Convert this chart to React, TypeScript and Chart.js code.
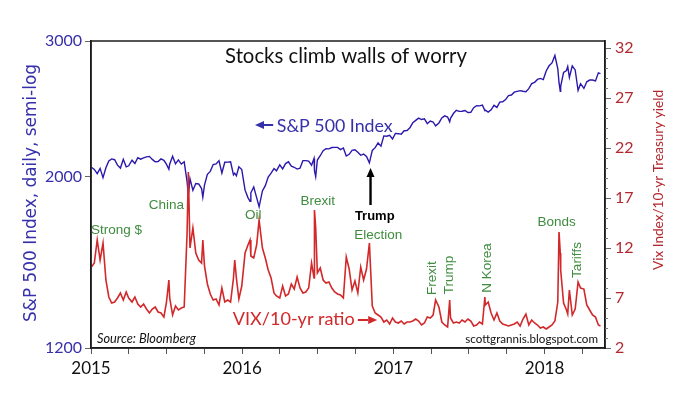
import React, { useEffect, useRef } from 'react';
import { Chart, registerables } from 'chart.js';

Chart.register(...registerables);

// ---------------- data ----------------
const dates = [
  "2015-01-02","2015-01-09","2015-01-16","2015-01-23","2015-01-30",
  "2015-02-06","2015-02-13","2015-02-20","2015-02-27",
  "2015-03-06","2015-03-13","2015-03-20","2015-03-27",
  "2015-04-02","2015-04-10","2015-04-17","2015-04-24",
  "2015-05-01","2015-05-08","2015-05-15","2015-05-22","2015-05-29",
  "2015-06-05","2015-06-12","2015-06-19","2015-06-26",
  "2015-07-02","2015-07-08","2015-07-10","2015-07-17","2015-07-24","2015-07-31",
  "2015-08-07","2015-08-14","2015-08-21","2015-08-24","2015-08-28",
  "2015-09-04","2015-09-11","2015-09-18","2015-09-25","2015-09-28",
  "2015-10-02","2015-10-09","2015-10-16","2015-10-23","2015-10-30",
  "2015-11-06","2015-11-13","2015-11-20","2015-11-27",
  "2015-12-04","2015-12-11","2015-12-14","2015-12-18","2015-12-24","2015-12-31",
  "2016-01-08","2016-01-15","2016-01-20","2016-01-22","2016-01-29",
  "2016-02-05","2016-02-11","2016-02-19","2016-02-26",
  "2016-03-04","2016-03-11","2016-03-18","2016-03-24",
  "2016-04-01","2016-04-08","2016-04-15","2016-04-22","2016-04-29",
  "2016-05-06","2016-05-13","2016-05-20","2016-05-27",
  "2016-06-03","2016-06-10","2016-06-17","2016-06-23","2016-06-24","2016-06-27",
  "2016-07-01","2016-07-08","2016-07-15","2016-07-22","2016-07-29",
  "2016-08-05","2016-08-12","2016-08-19","2016-08-26",
  "2016-09-02","2016-09-09","2016-09-16","2016-09-23","2016-09-30",
  "2016-10-07","2016-10-14","2016-10-21","2016-10-28",
  "2016-11-04","2016-11-11","2016-11-18","2016-11-25",
  "2016-12-02","2016-12-09","2016-12-16","2016-12-23","2016-12-30",
  "2017-01-06","2017-01-13","2017-01-20","2017-01-27",
  "2017-02-03","2017-02-10","2017-02-17","2017-02-24",
  "2017-03-03","2017-03-10","2017-03-17","2017-03-24","2017-03-31",
  "2017-04-07","2017-04-13","2017-04-21","2017-04-28",
  "2017-05-05","2017-05-12","2017-05-17","2017-05-19","2017-05-26",
  "2017-06-02","2017-06-09","2017-06-16","2017-06-23","2017-06-30",
  "2017-07-07","2017-07-14","2017-07-21","2017-07-28",
  "2017-08-04","2017-08-10","2017-08-11","2017-08-18","2017-08-25",
  "2017-09-01","2017-09-08","2017-09-15","2017-09-22","2017-09-29",
  "2017-10-06","2017-10-13","2017-10-20","2017-10-27",
  "2017-11-03","2017-11-10","2017-11-17","2017-11-24",
  "2017-12-01","2017-12-08","2017-12-15","2017-12-22","2017-12-29",
  "2018-01-05","2018-01-12","2018-01-19","2018-01-26",
  "2018-02-02","2018-02-05","2018-02-08","2018-02-09","2018-02-16","2018-02-23","2018-02-26",
  "2018-03-02","2018-03-09","2018-03-16","2018-03-23","2018-03-29",
  "2018-04-06","2018-04-13","2018-04-20","2018-04-27",
  "2018-05-04","2018-05-11","2018-05-16",
];

const spx = [
  2058,2045,2019,2051,1995, 2055,2097,2110,2105, 2071,2053,2108,2061, 2067,2102,2081,2117,
  2108,2116,2123,2126,2107, 2092,2094,2110,2101, 2077,2046,2077,2127,2079,2104,
  2078,2092,1971,1893,1989, 1921,1961,1958,1931,1882, 1951,2015,2033,2075,2079,
  2099,2023,2089,2090, 2092,2012,2022,2006,2061,2044,
  1922,1880,1859,1907,1940, 1880,1829,1918,1948, 1999,2022,2050,2036,
  2073,2048,2081,2092,2065, 2058,2047,2052,2099, 2099,2096,2071,2113,2037,2001,
  2103,2130,2162,2175,2174, 2183,2184,2184,2169, 2180,2128,2139,2165,2168,
  2153,2133,2141,2126, 2085,2164,2182,2213, 2192,2260,2258,2264,2239,
  2277,2275,2271,2295, 2297,2316,2351,2367, 2383,2373,2378,2344,2363,
  2356,2329,2349,2384, 2399,2391,2357,2382,2416, 2439,2432,2433,2438,2423,
  2425,2459,2473,2472, 2477,2438,2441,2426,2443, 2476,2461,2500,2502,2519,
  2549,2553,2575,2581, 2587,2582,2579,2602, 2642,2652,2675,2683,2674,
  2743,2786,2810,2873, 2762,2649,2581,2620,2732,2747,2780,
  2691,2786,2752,2588,2641, 2604,2656,2670,2670, 2663,2728,2722,
];

const vixRatio = [
  10.1,10.5,12.8,10.8,12.5, 8.8,7.1,6.5,6.6, 7.0,7.5,6.8,7.6, 7.0,6.6,7.1,6.4,
  6.1,6.4,5.9,5.5,5.9, 6.1,5.6,5.5,5.1, 6.5,8.8,7.0,5.3,6.2,5.8,
  6.0,6.1,13.5,19.6,12.0, 14.0,11.5,10.8,10.5,12.8, 10.2,8.4,7.4,6.8,6.9,
  6.3,8.0,6.6,6.8, 6.6,9.0,10.8,9.0,6.9,8.2,
  11.5,12.3,12.8,11.2,11.0, 12.3,14.8,12.0,11.0, 9.8,9.0,7.5,7.2,
  7.0,8.2,7.2,7.4,8.4, 7.9,9.1,8.0,7.5, 7.6,8.0,10.5,9.0,15.8,14.0,
  9.5,10.0,8.8,8.5,8.6, 8.0,7.6,7.4,7.3, 7.0,11.1,9.9,7.8,8.7,
  7.5,10.1,8.8,9.9, 12.5,6.2,5.5,5.3, 5.1,4.6,4.8,4.4,5.0,
  4.6,4.5,4.7,4.4, 4.6,4.6,4.7,4.9, 4.7,4.3,4.5,5.1,5.0,
  5.3,6.8,6.1,4.6, 4.3,4.1,6.8,5.0,4.5, 4.6,4.5,4.8,4.6,4.9,
  4.7,4.2,4.3,4.6, 4.4,7.1,6.3,6.6,5.5, 4.8,5.5,4.7,4.4,4.3,
  4.2,4.3,4.4,4.6, 4.2,4.9,5.4,4.3, 4.8,4.5,4.3,4.0,4.1,
  3.9,4.1,4.3,4.7, 6.6,13.6,11.5,9.8,6.5,5.8,5.4,
  7.8,5.3,5.9,8.6,8.0, 7.9,6.3,5.8,5.3, 5.1,4.3,4.2,
];

const leftTicks = [1200, 2000, 3000];
const rightTicks = [2, 7, 12, 17, 22, 27, 32];
const yearLabels = [2015, 2016, 2017, 2018];
const quarterTicks = [
  2015, 2015.25, 2015.5, 2015.75, 2016, 2016.25, 2016.5, 2016.75,
  2017, 2017.25, 2017.5, 2017.75, 2018, 2018.25,
];

const TITLE = 'Stocks climb walls of worry';
const LEFT_TITLE = 'S&P 500 Index, daily, semi-log';
const RIGHT_TITLE = 'Vix Index/10-yr Treasury yield';

// event labels (x in years, y in right-axis units)
const events = [
  { t: 'Strong $', x: 2015.169, y: 13.8, rot: false },
  { t: 'China', x: 2015.498, y: 16.3, rot: false },
  { t: 'Oil', x: 2016.074, y: 15.3, rot: false },
  { t: 'Brexit', x: 2016.5, y: 16.63, rot: false },
  { t: 'Election', x: 2016.9, y: 13.3, rot: false },
  { t: 'Bonds', x: 2018.08, y: 14.53, rot: false },
  { t: 'Frexit', x: 2017.26, y: 9.0, rot: true },
  { t: 'Trump', x: 2017.373, y: 9.3, rot: true },
  { t: 'N Korea', x: 2017.624, y: 10.0, rot: true },
  { t: 'Tariffs', x: 2018.219, y: 10.8, rot: true },
];

// ---------------- styles ----------------
const BLUE = '#2a18ad';
const RED = '#d2282a';
const GREEN = '#3f8c3f';
const AXIS_BLUE = '#3630aa';
const AXIS_RED = '#b3282e';
const GEO = 'Lato, "Liberation Sans", sans-serif';
const WIDE = '"DejaVu Sans", sans-serif';
const ARIAL = '"Liberation Sans", Arial, sans-serif';

const toYear = (s: string) => {
  const [y, m, d] = s.split('-').map(Number);
  const st = Date.UTC(y, 0, 1);
  const en = Date.UTC(y + 1, 0, 1);
  return y + (Date.UTC(y, m - 1, d) - st) / (en - st);
};

const fit = (ctx: CanvasRenderingContext2D, spec: string, family: string, text: string, w: number) => {
  ctx.font = `${spec} 100px ${family}`;
  const m = ctx.measureText(text).width;
  ctx.font = `${spec} ${((100 * w) / m).toFixed(2)}px ${family}`;
};

const arrow = (ctx: CanvasRenderingContext2D, x1: number, y1: number, x2: number, y2: number, color: string, lw: number, hl: number, hw: number) => {
  const ang = Math.atan2(y2 - y1, x2 - x1);
  const bx = x2 - Math.cos(ang) * hl;
  const by = y2 - Math.sin(ang) * hl;
  ctx.strokeStyle = color;
  ctx.fillStyle = color;
  ctx.lineWidth = lw;
  ctx.beginPath();
  ctx.moveTo(x1, y1);
  ctx.lineTo(bx, by);
  ctx.stroke();
  ctx.beginPath();
  ctx.moveTo(x2, y2);
  ctx.lineTo(bx + Math.sin(ang) * hw / 2, by - Math.cos(ang) * hw / 2);
  ctx.lineTo(bx - Math.sin(ang) * hw / 2, by + Math.cos(ang) * hw / 2);
  ctx.closePath();
  ctx.fill();
};

const overlay = {
  id: 'overlay',
  afterDraw(chart: any) {
    const { ctx, chartArea: a, scales } = chart;
    const X = (v: number) => scales.x.getPixelForValue(v);
    const Y = (v: number) => scales.y1.getPixelForValue(v);
    ctx.save();

    // frame
    ctx.strokeStyle = '#1e1e1e';
    ctx.lineWidth = 1.5;
    ctx.strokeRect(a.left, a.top, a.right - a.left, a.bottom - a.top);

    // minor ticks on right axis
    ctx.strokeStyle = '#777';
    ctx.lineWidth = 1;
    for (let v = 3; v < 32; v++) {
      if ((v - 2) % 5 === 0) continue;
      const y = Math.round(Y(v)) + 0.5;
      ctx.beginPath();
      ctx.moveTo(a.right, y);
      ctx.lineTo(a.right + 3, y);
      ctx.stroke();
    }

    // title
    ctx.fillStyle = '#111';
    ctx.textAlign = 'center';
    ctx.textBaseline = 'alphabetic';
    fit(ctx, 'normal 400', GEO, TITLE, 242);
    ctx.fillText(TITLE, 346, a.top + 22);

    // S&P label with arrow
    ctx.fillStyle = AXIS_BLUE;
    ctx.textAlign = 'left';
    fit(ctx, 'normal 400', GEO, 'S&P 500 Index', 116);
    ctx.fillText('S&P 500 Index', X(2016.229), Y(24.2) + 6);
    arrow(ctx, X(2016.205), Y(24.3), X(2016.085), Y(24.3), AXIS_BLUE, 2, 9, 8);

    // VIX label with arrow
    ctx.fillStyle = RED;
    fit(ctx, 'normal 400', GEO, 'VIX/10-yr ratio', 122);
    ctx.fillText('VIX/10-yr ratio', X(2015.938), Y(4.5) + 2);
    arrow(ctx, X(2016.765), Y(4.8), X(2016.893), Y(4.8), RED, 2, 9, 8);

    // source and blog
    ctx.fillStyle = '#111';
    fit(ctx, 'italic 400', GEO, 'Source: Bloomberg', 99);
    ctx.fillText('Source: Bloomberg', a.left + 6, a.bottom - 5);
    ctx.textAlign = 'right';
    fit(ctx, 'normal 400', GEO, 'scottgrannis.blogspot.com', 133);
    ctx.fillText('scottgrannis.blogspot.com', a.right - 7, a.bottom - 5);

    // event labels
    ctx.fillStyle = GREEN;
    ctx.textAlign = 'center';
    ctx.textBaseline = 'middle';
    ctx.font = `400 13.5px ${ARIAL}`;
    for (const e of events) {
      const px = X(e.x);
      const py = Y(e.y);
      if (e.rot) {
        ctx.save();
        ctx.translate(px, py);
        ctx.rotate(-Math.PI / 2);
        ctx.fillText(e.t, 0, 0);
        ctx.restore();
      } else {
        ctx.fillText(e.t, px, py);
      }
    }

    // Trump election marker
    ctx.fillStyle = '#000';
    ctx.font = `700 13px ${ARIAL}`;
    ctx.fillText('Trump', X(2016.877), Y(15.2));
    arrow(ctx, X(2016.849), Y(16.3), X(2016.849), Y(20.0), '#000', 2.4, 9, 8);

    // axis titles
    ctx.textAlign = 'center';
    ctx.textBaseline = 'middle';
    ctx.fillStyle = AXIS_BLUE;
    ctx.save();
    ctx.translate(31.5, 193);
    ctx.rotate(-Math.PI / 2);
    fit(ctx, 'normal 400', WIDE, LEFT_TITLE, 258);
    ctx.fillText(LEFT_TITLE, 0, 0);
    ctx.restore();

    ctx.fillStyle = AXIS_RED;
    ctx.save();
    ctx.translate(659, 180);
    ctx.rotate(-Math.PI / 2);
    fit(ctx, 'normal 400', GEO, RIGHT_TITLE, 180);
    ctx.fillText(RIGHT_TITLE, 0, 0);
    ctx.restore();

    ctx.restore();
  },
};

export default function App() {
  const ref = useRef<HTMLCanvasElement>(null);
  useEffect(() => {
    const canvas = ref.current;
    if (!canvas) return;
    const xs = dates.map(toYear);
    const chart = new Chart(canvas, {
      type: 'line',
      data: {
        datasets: [
          {
            label: 'VIX/10-yr ratio',
            data: xs.map((x, i) => ({ x, y: vixRatio[i] })),
            yAxisID: 'y1',
            borderColor: RED,
            borderWidth: 1.6,
            pointRadius: 0,
            tension: 0,
          },
          {
            label: 'S&P 500 Index',
            data: xs.map((x, i) => ({ x, y: spx[i] })),
            yAxisID: 'y',
            borderColor: BLUE,
            borderWidth: 1.4,
            pointRadius: 0,
            tension: 0,
          },
        ],
      },
      options: {
        responsive: false,
        animation: false,
        devicePixelRatio: 1,
        events: [],
        layout: { padding: { top: 41, left: 0, right: 0, bottom: 0 } },
        plugins: { legend: { display: false }, tooltip: { enabled: false } },
        scales: {
          x: {
            type: 'linear',
            min: 2015,
            max: 2018.4,
            afterBuildTicks: (s: any) => { s.ticks = quarterTicks.map((v) => ({ value: v })); },
            afterFit: (s: any) => { s.height = 53; },
            ticks: {
              autoSkip: false,
              maxRotation: 0,
              minRotation: 0,
              padding: 4,
              color: '#111',
              font: { family: GEO, size: 17 },
              callback: (v: any) => (yearLabels.includes(Number(v)) ? String(v) : ''),
            },
            grid: { drawOnChartArea: false, drawTicks: true, tickLength: 6, color: '#555' },
            border: { display: true, color: '#111', width: 1.5 },
          },
          y: {
            type: 'logarithmic',
            position: 'left',
            min: 1200,
            max: 3000,
            afterBuildTicks: (s: any) => { s.ticks = leftTicks.map((v) => ({ value: v })); },
            afterFit: (s: any) => { s.width = 91; },
            ticks: {
              padding: 3,
              color: AXIS_BLUE,
              font: { family: GEO, size: 16 },
              callback: (v: any) => String(v),
            },
            grid: { drawOnChartArea: false, drawTicks: true, tickLength: 6, color: '#666' },
            border: { display: true, color: '#111', width: 1.5 },
          },
          y1: {
            type: 'linear',
            position: 'right',
            min: 2,
            max: 32.7,
            afterBuildTicks: (s: any) => { s.ticks = rightTicks.map((v) => ({ value: v })); },
            afterFit: (s: any) => { s.width = 70; },
            ticks: {
              padding: 4,
              color: AXIS_RED,
              font: { family: GEO, size: 16 },
              callback: (v: any) => String(v),
            },
            grid: { drawOnChartArea: false, drawTicks: true, tickLength: 6, color: '#666' },
            border: { display: true, color: '#111', width: 1.5 },
          },
        },
      },
      plugins: [overlay],
    } as any);
    return () => chart.destroy();
  }, []);
  return (
    <canvas
      ref={ref}
      width={675}
      height={401}
      style={{ position: 'absolute', left: 0, top: 0 }}
    />
  );
}
